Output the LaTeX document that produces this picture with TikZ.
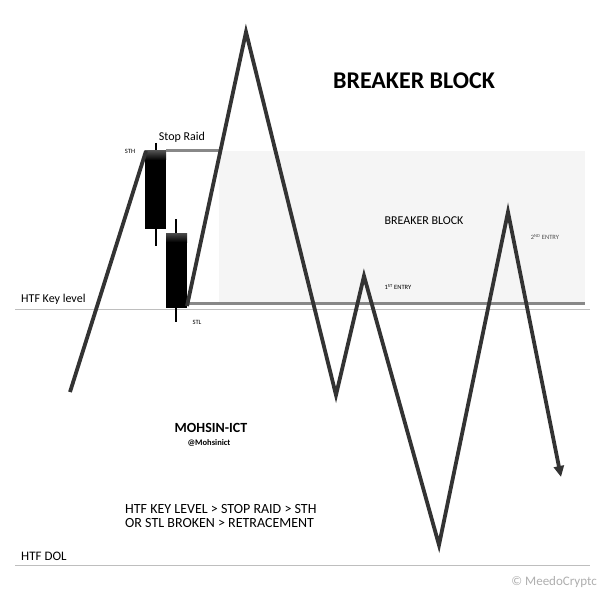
\documentclass[tikz,border=0pt]{standalone}
\usepackage{fontspec}
\setmainfont{Carlito}
\usetikzlibrary{calc, positioning, arrows.meta}
\definecolor{PriceLine}{RGB}{51,51,51}
\definecolor{LevelGrey}{RGB}{136,136,136}
\definecolor{ZoneGrey}{RGB}{245,245,245}
\definecolor{ThinGrey}{RGB}{190,190,190}
\definecolor{MarkGrey}{RGB}{175,175,175}

\begin{document}
\begin{tikzpicture}[x=1pt, y=-1pt, font=\fontsize{12}{14}\selectfont,
  price/.style={PriceLine, line width=3.8pt, line join=miter},
  level/.style={LevelGrey, line width=3pt},
  tiny/.style={font=\fontsize{6.5}{7}\selectfont}]
  \useasboundingbox[fill=white] (0,0) rectangle (605,599);

  % breaker zone and levels
  \fill[ZoneGrey] (219,151) rectangle (585,303);
  \draw[ThinGrey, line width=1pt] (15,309) -- (590,309);
  \draw[ThinGrey, line width=1pt] (15,565) -- (590,565);

  % candles
  \coordinate (c1tl) at (146,151);
  \coordinate (c1tr) at (166,151);
  \coordinate (c2br) at (187,306);
  \draw[black, line width=2pt] (156,143) -- (156,246);
  \fill[black] (145,151) rectangle (166,229);
  \draw[black, line width=2pt] (176,219) -- (176,322);
  \fill[black] (166,233) rectangle (187,308);
  \shade[top color=black!70, bottom color=black] (145,151) rectangle (166,160);
  \shade[top color=black!70, bottom color=black] (166,233) rectangle (187,242);

  \draw[level] (c1tr) -- (219,151);
  \draw[level] (c2br |- 0,303) -- (585,303);

  % price path
  \coordinate (start) at (70,392);
  \coordinate (pk1) at (246,32);
  \coordinate (tr1) at (336,395);
  \coordinate (pk2) at (364,276);
  \coordinate (tr2) at (439,545);
  \coordinate (pk3) at (508,212);
  \coordinate (tip) at (561,477);
  \draw[price] (start) -- (c1tl);
  \draw[price, -{Triangle[length=11pt, width=10pt]}] (c2br) -- (pk1) -- (tr1) -- (pk2) -- (tr2) -- (pk3) -- (tip);

  % labels
  \node (title) at (414,81) {\fontsize{24}{28}\selectfont\bfseries BREAKER BLOCK};
  \node (raid) at (182,137) {Stop Raid};
  \node[tiny] (sth) at (130,151) {STH};
  \node[tiny] (stl) at (197,322) {STL};
  \node[anchor=west, inner sep=0pt] (keylvl) at (21,299) {HTF Key level};
  \node (zone) at (424,221) {BREAKER BLOCK};
  \node[tiny] (entry1) at (398,287) {1\textsuperscript{ST} ENTRY};
  \node[tiny, black!70] (entry2) at (545,237) {2\textsuperscript{ND} ENTRY};
  \node (author) at (211,428) {\fontsize{14}{16}\selectfont\bfseries MOHSIN-ICT};
  \node (handle) at (209,443) {\fontsize{8.5}{10}\selectfont\bfseries @Mohsinict};
  \node[anchor=west, inner sep=0pt, align=left] (steps) at (125,516)
    {\fontsize{14}{17}\selectfont HTF KEY LEVEL > STOP RAID > STH\\
     \fontsize{14}{17}\selectfont OR STL BROKEN > RETRACEMENT};
  \node[anchor=west, inner sep=0pt] (dol) at (21,556) {\fontsize{13}{15}\selectfont HTF DOL};
  \node[anchor=east, inner sep=0pt, MarkGrey] (mark) at (597,582)
    {\fontsize{13}{15}\selectfont\textcopyright\ MeedoCryptc};
\end{tikzpicture}
\end{document}
